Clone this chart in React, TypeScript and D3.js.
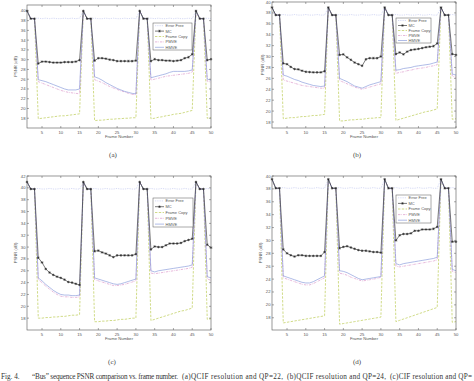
import React from 'react';
import * as d3 from 'd3';

const FRAMES = [1,2,3,4,5,6,7,8,9,10,11,12,13,14,15,16,17,18,19,20,21,22,23,24,25,26,27,28,29,30,31,32,33,34,35,36,37,38,39,40,41,42,43,44,45,46,47,48,49,50];
const X_TICKS = [5,10,15,20,25,30,35,40,45,50];
const Y_TICKS_A = [18,20,22,24,26,28,30,32,34,36,38,40];
const Y_TICKS_B = [18,20,22,24,26,28,30,32,34,36,38,40];
const Y_TICKS_C = [18,20,22,24,26,28,30,32,34,36,38,40,42];
const Y_TICKS_D = [18,20,22,24,26,28,30,32,34,36,38,40];
const SERIES_NAMES = ['Error Free','MC','Frame Copy','PMVE','HMVE'];

// (a) QCIF, QP=22
const EF_A = [40.0,38.4,38.4,38.5,38.4,38.5,38.4,38.5,38.4,38.4,38.5,38.4,38.5,38.4,38.5,40.0,38.4,38.4,38.5,38.4,38.4,38.5,38.4,38.5,38.4,38.4,38.5,38.4,38.5,38.4,40.0,38.4,38.4,38.5,38.4,38.5,38.4,38.4,38.5,38.4,38.5,38.4,38.4,38.5,38.4,40.0,38.4,38.4,38.5,38.4];
const MC_A = [40.0,38.4,38.4,29.2,29.6,29.6,29.5,29.4,29.4,29.4,29.5,29.5,29.5,29.6,29.9,40.0,38.4,38.4,29.8,30.3,30.3,30.2,30.0,29.9,29.7,29.7,29.7,29.7,29.7,29.8,40.0,38.4,38.4,29.7,30.1,29.9,29.9,29.8,29.8,29.7,29.8,29.9,30.3,30.5,31.1,40.0,38.4,38.4,29.9,30.1];
const FC_A = [40.0,38.4,38.4,17.9,18.0,18.1,18.2,18.3,18.4,18.5,18.5,18.6,18.7,18.8,18.9,40.0,38.4,38.4,17.5,17.6,17.6,17.7,17.8,17.8,17.9,17.9,18.0,18.0,18.1,18.1,40.0,38.4,38.4,17.9,18.0,18.2,18.3,18.5,18.6,18.8,18.9,19.0,19.2,19.4,19.6,40.0,38.4,38.4,18.0,18.1];
const PMVE_A = [40.0,38.4,38.4,25.5,25.2,24.9,24.6,24.3,24.0,23.7,23.5,23.3,23.2,23.1,23.0,40.0,38.4,38.4,25.9,25.6,25.3,24.9,24.5,24.2,23.9,23.6,23.4,23.1,22.9,22.8,40.0,38.4,38.4,25.8,26.0,26.2,26.4,26.6,26.7,26.8,26.9,27.0,27.1,27.2,27.4,40.0,38.4,38.4,25.6,25.4];
const HMVE_A = [40.0,38.4,38.4,25.9,25.7,25.5,25.2,24.9,24.6,24.3,24.0,23.8,23.8,23.8,24.0,40.0,38.4,38.4,26.5,26.2,25.8,25.3,24.9,24.5,24.1,23.8,23.5,23.3,23.1,23.0,40.0,38.4,38.4,26.3,26.5,26.7,26.9,27.1,27.4,27.6,27.6,27.6,27.6,27.7,27.9,40.0,38.4,38.4,26.0,25.8];

// (b) QCIF, QP=24
const EF_B = [39.0,37.6,37.6,37.7,37.6,37.6,37.7,37.6,37.6,37.7,37.6,37.6,37.7,37.6,37.6,39.0,37.6,37.6,37.7,37.6,37.6,37.7,37.6,37.6,37.7,37.6,37.6,37.7,37.6,37.6,39.0,37.6,37.6,37.7,37.6,37.6,37.7,37.6,37.6,37.7,37.6,37.6,37.7,37.6,37.6,39.0,37.6,37.6,37.7,37.6];
const MC_B = [39.0,37.6,37.6,28.75,28.6,28.1,27.7,27.65,27.4,27.2,27.15,27.1,27.1,27.1,27.3,39.0,37.6,37.6,30.3,30.4,29.85,29.4,28.9,28.6,28.3,29.5,29.7,29.7,29.7,30.0,39.0,37.6,37.6,30.45,30.75,30.4,30.9,31.2,31.3,31.4,31.55,31.7,31.8,31.9,32.4,39.0,37.6,37.6,30.45,30.3];
const FC_B = [39.0,37.6,37.6,18.6,18.7,18.8,18.8,18.9,19.0,19.0,19.1,19.2,19.2,19.3,19.4,39.0,37.6,37.6,18.2,18.2,18.3,18.4,18.4,18.5,18.5,18.6,18.7,18.7,18.8,18.8,39.0,37.6,37.6,18.3,18.5,18.7,18.9,19.1,19.3,19.5,19.7,19.9,20.0,20.2,20.4,39.0,37.6,37.6,18.5,18.6];
const PMVE_B = [39.0,37.6,37.6,25.7,25.5,25.3,25.1,24.9,24.7,24.6,24.5,24.4,24.3,24.2,24.2,39.0,37.6,37.6,25.6,25.3,25.0,24.7,24.4,24.2,24.0,24.2,24.4,24.6,24.8,25.0,39.0,37.6,37.6,26.9,27.1,27.2,27.4,27.5,27.7,27.8,27.9,28.0,28.2,28.3,28.5,39.0,37.6,37.6,26.4,26.2];
const HMVE_B = [39.0,37.6,37.6,26.6,26.4,26.1,25.8,25.6,25.3,25.1,24.9,24.7,24.6,24.5,24.6,39.0,37.6,37.6,26.0,25.7,25.4,25.0,24.6,24.4,24.2,24.5,24.8,25.0,25.2,25.4,39.0,37.6,37.6,27.5,27.6,27.8,27.9,28.0,28.2,28.3,28.4,28.5,28.6,28.8,29.0,39.0,37.6,37.6,26.8,26.6];

// (c) CIF
const EF_C = [41.0,39.8,39.8,39.9,39.8,39.8,39.9,39.8,39.8,39.9,39.8,39.8,39.9,39.8,39.8,41.0,39.8,39.8,39.9,39.8,39.8,39.9,39.8,39.8,39.9,39.8,39.8,39.9,39.8,39.8,41.0,39.8,39.8,39.9,39.8,39.8,39.9,39.8,39.8,39.9,39.8,39.8,39.9,39.8,39.8,41.0,39.8,39.8,39.9,39.8];
const MC_C = [41.0,39.8,39.8,28.2,27.4,26.3,25.7,25.3,25.0,24.8,24.5,24.1,24.0,23.8,23.6,41.0,39.8,39.8,29.3,29.4,29.1,28.9,28.6,28.3,28.6,28.6,28.6,28.6,28.6,28.8,41.0,39.8,39.8,29.6,30.1,30.0,30.0,30.3,30.6,30.6,30.6,30.7,31.0,31.2,31.4,41.0,39.8,39.8,30.4,29.9];
const FC_C = [41.0,39.8,39.8,18.0,18.0,18.1,18.1,18.2,18.2,18.3,18.3,18.4,18.5,18.5,18.6,41.0,39.8,39.8,17.4,17.4,17.5,17.5,17.6,17.6,17.7,17.8,17.8,17.9,18.0,18.0,41.0,39.8,39.8,17.6,17.8,18.0,18.2,18.4,18.6,18.8,19.0,19.2,19.3,19.5,19.7,41.0,39.8,39.8,17.8,17.9];
const PMVE_C = [41.0,39.8,39.8,24.5,24.0,23.4,22.9,22.4,22.0,21.7,21.6,21.6,21.5,21.5,21.6,41.0,39.8,39.8,24.5,24.3,24.1,23.9,23.7,23.5,23.5,23.6,23.7,23.9,24.1,24.3,41.0,39.8,39.8,25.6,25.5,25.6,25.7,25.8,25.9,26.0,26.1,26.2,26.3,26.4,26.6,41.0,39.8,39.8,24.6,24.4];
const HMVE_C = [41.0,39.8,39.8,24.8,24.3,23.7,23.2,22.7,22.3,22.0,21.9,21.9,21.8,21.8,21.9,41.0,39.8,39.8,24.8,24.6,24.4,24.2,24.0,23.8,23.7,23.8,24.0,24.2,24.4,24.6,41.0,39.8,39.8,26.0,25.8,26.0,26.1,26.2,26.3,26.4,26.5,26.6,26.7,26.8,27.0,41.0,39.8,39.8,25.0,24.8];

// (d) CIF
const EF_D = [39.5,38.1,38.1,38.2,38.1,38.1,38.2,38.1,38.1,38.2,38.1,38.1,38.2,38.1,38.1,39.5,38.1,38.1,38.2,38.1,38.1,38.2,38.1,38.1,38.2,38.1,38.1,38.2,38.1,38.1,39.5,38.1,38.1,38.2,38.1,38.1,38.2,38.1,38.1,38.2,38.1,38.1,38.2,38.1,38.1,39.5,38.1,38.1,38.2,38.1];
const MC_D = [39.5,38.1,38.1,28.6,28.0,27.7,27.5,27.7,27.7,27.6,27.6,27.6,27.6,27.6,28.2,39.5,38.1,38.1,28.8,29.0,29.1,28.9,28.7,28.5,28.4,28.4,28.3,28.2,28.2,28.1,39.5,38.1,38.1,30.0,30.8,31.0,31.0,31.1,31.5,31.5,31.7,31.7,31.7,31.8,32.1,39.5,38.1,38.1,29.8,29.8];
const FC_D = [39.5,38.1,38.1,17.2,17.3,17.4,17.5,17.6,17.7,17.8,17.9,18.0,18.1,18.2,18.3,39.5,38.1,38.1,17.0,17.1,17.2,17.3,17.4,17.5,17.6,17.7,17.8,17.9,18.0,18.1,39.5,38.1,38.1,17.4,17.6,17.8,18.0,18.2,18.4,18.6,18.8,19.0,19.2,19.4,19.6,39.5,38.1,38.1,17.3,17.4];
const PMVE_D = [39.5,38.1,38.1,24.2,24.0,23.8,23.6,23.4,23.2,23.1,23.1,23.3,23.6,23.9,24.2,39.5,38.1,38.1,24.9,24.8,24.6,24.3,24.1,23.9,23.7,23.8,23.9,24.0,24.1,24.3,39.5,38.1,38.1,26.0,25.9,26.0,26.1,26.2,26.3,26.4,26.5,26.6,26.7,26.8,27.0,39.5,38.1,38.1,25.2,25.0];
const HMVE_D = [39.5,38.1,38.1,24.5,24.3,24.1,23.9,23.7,23.5,23.4,23.4,23.6,23.9,24.2,24.5,39.5,38.1,38.1,25.3,25.2,25.0,24.7,24.4,24.1,23.9,24.0,24.1,24.2,24.3,24.4,39.5,38.1,38.1,26.4,26.2,26.4,26.5,26.6,26.7,26.8,26.9,27.0,27.1,27.2,27.4,39.5,38.1,38.1,25.5,25.3];

const CAPTION_PARTS = [
  'Fig. 4.',
  '\u201CBus\u201D sequence PSNR comparison vs. frame number.',
  '(a)QCIF resolution and QP=22,',
  '(b)QCIF resolution and QP=24,',
  '(c)CIF resolution and QP=',
];

const STYLES = [
  { color: '#aab2ea', dash: '0.8 1', width: 0.6 },
  { color: '#222222', dash: '', width: 0.6 },
  { color: '#bccb55', dash: '2.4 1.4', width: 0.7 },
  { color: '#dc9bcb', dash: '2.4 1 0.6 1', width: 0.7 },
  { color: '#7b8fd6', dash: '', width: 0.6 },
];
const DRAW_ORDER = [0, 2, 3, 4, 1];

const TICK_FONT = 'Liberation Sans, Arial, sans-serif';

function Star({ x, y }: { x: number; y: number }) {
  const s = 1.3;
  const d = `M${x - s},${y}L${x + s},${y}M${x},${y - s}L${x},${y + s}M${x - s * 0.7},${y - s * 0.7}L${x + s * 0.7},${y + s * 0.7}M${x - s * 0.7},${y + s * 0.7}L${x + s * 0.7},${y - s * 0.7}`;
  return <path d={d} stroke="#222" strokeWidth={0.5} fill="none" />;
}

function Panel(props: any) {
  const { x0, x1, y0, y1, yDomain, yTicks, series, legend, label, labelPos, ylabelX } = props;
  const xs = d3.scaleLinear().domain([1, 50]).range([x0, x1]);
  const ys = d3.scaleLinear().domain(yDomain).range([y1, y0]);
  const line = d3.line<number>().x((_, i) => xs(FRAMES[i])).y((v) => ys(v));
  const tl = 2;
  return (
    <g>
      <rect x={x0} y={y0} width={x1 - x0} height={y1 - y0} fill="#fff" stroke="none" />
      {DRAW_ORDER.map((k) => (
        <path key={k} d={line(series[k]) || ''} fill="none" stroke={STYLES[k].color}
          strokeWidth={STYLES[k].width} strokeDasharray={STYLES[k].dash} />
      ))}
      {series[1].map((v: number, i: number) => <Star key={i} x={xs(FRAMES[i])} y={ys(v)} />)}
      <rect x={x0} y={y0} width={x1 - x0} height={y1 - y0} fill="none" stroke="#555" strokeWidth={0.6} />
      {X_TICKS.map((t) => (
        <g key={'x' + t}>
          <line x1={xs(t)} x2={xs(t)} y1={y1} y2={y1 - tl} stroke="#555" strokeWidth={0.5} />
          <line x1={xs(t)} x2={xs(t)} y1={y0} y2={y0 + tl} stroke="#555" strokeWidth={0.5} />
          <text x={xs(t)} y={y1 + 5.5} fontSize={4.2} textAnchor="middle" fill="#555" fontFamily={TICK_FONT}>{t}</text>
        </g>
      ))}
      {yTicks.map((t: number) => (
        <g key={'y' + t}>
          <line x1={x0} x2={x0 + tl} y1={ys(t)} y2={ys(t)} stroke="#555" strokeWidth={0.5} />
          <line x1={x1} x2={x1 - tl} y1={ys(t)} y2={ys(t)} stroke="#555" strokeWidth={0.5} />
          <text x={x0 - 1.5} y={ys(t) + 1.5} fontSize={4.2} textAnchor="end" fill="#555" fontFamily={TICK_FONT}>{t}</text>
        </g>
      ))}
      <text x={(x0 + x1) / 2} y={y1 + 9.5} fontSize={4.2} textAnchor="middle" fill="#555" fontFamily={TICK_FONT}>Frame Number</text>
      <text transform={`translate(${ylabelX},${(y0 + y1) / 2}) rotate(-90)`} fontSize={4.2} textAnchor="middle" fill="#555" fontFamily={TICK_FONT}>PSNR (dB)</text>
      <g>
        <rect x={legend.x} y={legend.y} width={legend.w} height={legend.h} fill="#fff" stroke="#555" strokeWidth={0.5} />
        {SERIES_NAMES.map((name, k) => {
          const ly = legend.y + (legend.h / 5) * (k + 0.5);
          return (
            <g key={name}>
              <line x1={legend.x + 2} x2={legend.x + 11} y1={ly} y2={ly} stroke={STYLES[k].color}
                strokeWidth={STYLES[k].width} strokeDasharray={STYLES[k].dash} />
              {k === 1 && <Star x={legend.x + 6.5} y={ly} />}
              <text x={legend.x + 12.5} y={ly + 1.4} fontSize={4} fill="#555" fontFamily={TICK_FONT}>{name}</text>
            </g>
          );
        })}
      </g>
      <text x={labelPos[0]} y={labelPos[1]} fontSize={7} textAnchor="middle" fill="#444" fontFamily="Liberation Serif, Times New Roman, serif">{label}</text>
    </g>
  );
}

export default function App() {
  const panels = [
    { key: 'a', x0: 27, x1: 211, y0: 5, y1: 128, yDomain: [16, 41.2], yTicks: Y_TICKS_A,
      series: [EF_A, MC_A, FC_A, PMVE_A, HMVE_A], legend: { x: 153, y: 23, w: 39, h: 27 },
      label: '(a)', labelPos: [113, 157], ylabelX: 17 },
    { key: 'b', x0: 272, x1: 456, y0: 2, y1: 128, yDomain: [16.9, 40], yTicks: Y_TICKS_B,
      series: [EF_B, MC_B, FC_B, PMVE_B, HMVE_B], legend: { x: 396, y: 18, w: 35, h: 25 },
      label: '(b)', labelPos: [357, 157], ylabelX: 264 },
    { key: 'c', x0: 27, x1: 211, y0: 176, y1: 330, yDomain: [16, 42], yTicks: Y_TICKS_C,
      series: [EF_C, MC_C, FC_C, PMVE_C, HMVE_C], legend: { x: 153, y: 198, w: 40, h: 29 },
      label: '(c)', labelPos: [112, 364], ylabelX: 17 },
    { key: 'd', x0: 272, x1: 456, y0: 176, y1: 330, yDomain: [16.1, 40], yTicks: Y_TICKS_D,
      series: [EF_D, MC_D, FC_D, PMVE_D, HMVE_D], legend: { x: 396, y: 195, w: 35, h: 28 },
      label: '(d)', labelPos: [357, 364], ylabelX: 262 },
  ];
  const capX = [1, 32, 182, 287, 390];
  const capLen = [0, 146, 101, 99, 82];
  return (
    <svg width={474} height={381} style={{ position: 'absolute', left: 0, top: 0, background: '#fff' }}>
      <rect x={0} y={0} width={474} height={381} fill="#fff" />
      {panels.map((p) => <Panel {...p} />)}
      {CAPTION_PARTS.map((t, i) => (
        <text key={i} x={capX[i]} y={379} fontSize={7.2} fill="#333"
          fontFamily="Liberation Serif, Times New Roman, serif"
          {...(capLen[i] ? { textLength: capLen[i], lengthAdjust: 'spacing' } : {})}>{t}</text>
      ))}
    </svg>
  );
}
